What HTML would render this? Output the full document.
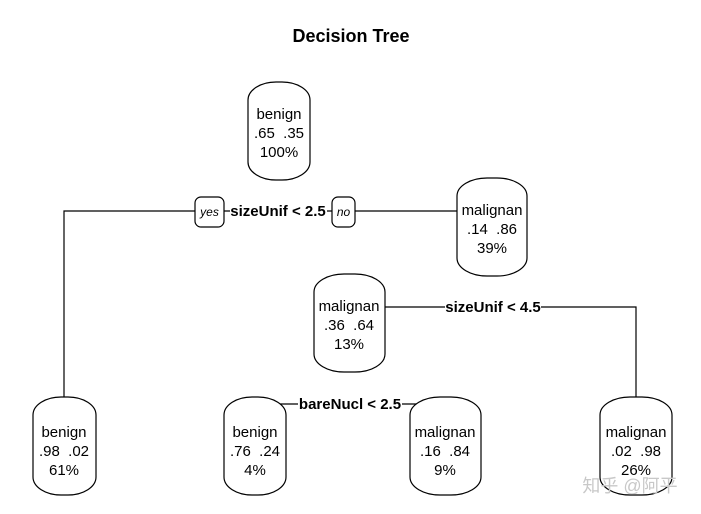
<!DOCTYPE html>
<html><head><meta charset="utf-8"><style>
html,body{margin:0;padding:0;background:#fff;}
svg{display:block;}
text{font-family:"Liberation Sans",Arial,sans-serif;fill:#000;white-space:pre;}
</style></head><body>
<svg width="701" height="514" viewBox="0 0 701 514" xmlns="http://www.w3.org/2000/svg">
<rect width="701" height="514" fill="#fff"/>
<text x="351" y="42" text-anchor="middle" font-size="18" font-weight="bold">Decision Tree</text>
<g stroke="#000" stroke-width="1.2" fill="none">
  <path d="M64 397 V211 H195 M224 211 H332 M355 211 H457"/>
  <path d="M385 307 H636 V397"/>
  <path d="M275 404 H420"/>
</g>
<g stroke="#000" stroke-width="1.2" fill="#fff">
  <rect x="248" y="82" width="62" height="98" rx="28" ry="18"/>
  <rect x="457" y="178" width="70" height="98" rx="30" ry="18"/>
  <rect x="314" y="274" width="71" height="98" rx="30" ry="18"/>
  <rect x="33" y="397" width="63" height="98" rx="28" ry="18"/>
  <rect x="224" y="397" width="62" height="98" rx="28" ry="18"/>
  <rect x="410" y="397" width="71" height="98" rx="30" ry="18"/>
  <rect x="600" y="397" width="72" height="98" rx="30" ry="18"/>
  <rect x="195" y="197" width="29" height="30" rx="6" ry="6"/>
  <rect x="332" y="197" width="23" height="30" rx="6" ry="6"/>
</g>
<g font-size="15" text-anchor="middle">
  <text x="279" y="119">benign</text><text x="279" y="138">.65&#160;&#160;.35</text><text x="279" y="157">100%</text>
  <text x="492" y="215">malignan</text><text x="492" y="234">.14&#160;&#160;.86</text><text x="492" y="253">39%</text>
  <text x="349" y="311">malignan</text><text x="349" y="330">.36&#160;&#160;.64</text><text x="349" y="349">13%</text>
  <text x="64" y="437">benign</text><text x="64" y="456">.98&#160;&#160;.02</text><text x="64" y="475">61%</text>
  <text x="255" y="437">benign</text><text x="255" y="456">.76&#160;&#160;.24</text><text x="255" y="475">4%</text>
  <text x="445" y="437">malignan</text><text x="445" y="456">.16&#160;&#160;.84</text><text x="445" y="475">9%</text>
  <text x="636" y="437">malignan</text><text x="636" y="456">.02&#160;&#160;.98</text><text x="636" y="475">26%</text>
</g>
<text x="209.5" y="216" font-size="12" font-style="italic" text-anchor="middle">yes</text>
<text x="343.5" y="216" font-size="12" font-style="italic" text-anchor="middle">no</text>
<g font-size="15" font-weight="bold" text-anchor="middle">
  <rect x="230" y="203" width="97" height="17" fill="#fff"/>
  <text x="278" y="216">sizeUnif &lt; 2.5</text>
  <rect x="445" y="299" width="96" height="17" fill="#fff"/>
  <text x="493" y="312">sizeUnif &lt; 4.5</text>
  <rect x="298" y="396" width="104" height="17" fill="#fff"/>
  <text x="350" y="409">bareNucl &lt; 2.5</text>
</g>
<text x="630" y="492" font-size="18" text-anchor="middle" style="font-family:'Liberation Sans','Noto Sans CJK SC',sans-serif;fill:#c8c8c8">知乎 @阿平</text>
</svg>
</body></html>
